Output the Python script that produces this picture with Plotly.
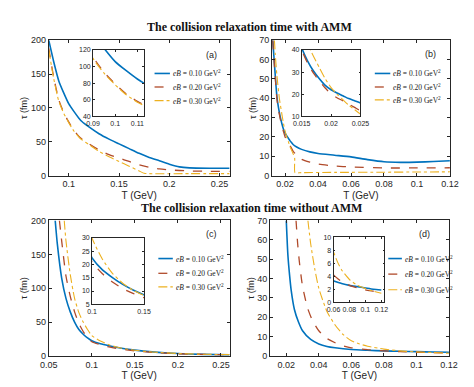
import plotly.graph_objects as go

# ---------------- data ----------------
labels = ["<i>eB</i> = 0.10 GeV<sup>2</sup>", "<i>eB</i> = 0.20 GeV<sup>2</sup>", "<i>eB</i> = 0.30 GeV<sup>2</sup>"]

# (a) with AMM, wide range
a_T1 = [0.08, 0.085, 0.09, 0.095, 0.1, 0.105, 0.11, 0.113, 0.12, 0.13, 0.14, 0.15, 0.16, 0.17, 0.18, 0.19, 0.2, 0.21, 0.22, 0.24, 0.26]
a_t1 = [200, 168, 140, 122, 106, 95, 85, 80, 72, 62, 54, 47, 40, 33, 27, 22, 17, 13, 11.5, 11, 11]
a_T2 = [0.08, 0.085, 0.09, 0.095, 0.1, 0.105, 0.11, 0.113, 0.12, 0.13, 0.14, 0.15, 0.16, 0.17, 0.18, 0.19, 0.2, 0.22, 0.24, 0.26]
a_t2 = [188, 145, 112, 93, 79, 67, 58, 54, 47, 38, 31, 26, 21, 16, 12.5, 10, 8.5, 7, 6.5, 6.5]
a_T3 = [0.08, 0.085, 0.09, 0.095, 0.1, 0.105, 0.11, 0.113, 0.12, 0.13, 0.14, 0.15, 0.16, 0.17, 0.175, 0.18, 0.22, 0.26]
a_t3 = [186, 143, 110, 92, 78, 66, 57, 53, 46, 36, 28, 21, 14, 7, 3.5, 3, 3, 3]

# (b) with AMM, low temperature
b_T1 = [0.0125, 0.013, 0.014, 0.015, 0.016, 0.017, 0.018, 0.019, 0.02, 0.021, 0.022, 0.023, 0.024, 0.025, 0.027, 0.03, 0.035, 0.04, 0.05, 0.06, 0.07, 0.08, 0.09, 0.1, 0.11, 0.12]
b_t1 = [70, 64, 52, 41, 35, 30.5, 27, 24, 22, 20.5, 19.3, 18, 17, 16, 14.8, 13.6, 12.3, 11.5, 10.6, 9.7, 8.3, 7.2, 6.9, 7.0, 7.3, 7.7]
b_T2 = [0.0125, 0.013, 0.014, 0.015, 0.016, 0.017, 0.018, 0.019, 0.02, 0.021, 0.022, 0.023, 0.024, 0.025, 0.026, 0.028, 0.03, 0.035, 0.04, 0.05, 0.06, 0.08, 0.1, 0.12]
b_t2 = [70, 63, 51, 40, 34, 29.5, 26, 22.8, 20, 18.4, 17, 15.5, 14, 12.5, 11.5, 9.8, 8.5, 7, 6, 5, 4.5, 4, 4, 4.1]
b_T3 = [0.0135, 0.014, 0.015, 0.0165, 0.018, 0.019, 0.02, 0.021, 0.022, 0.023, 0.024, 0.025, 0.0258, 0.026, 0.03, 0.05, 0.08, 0.1, 0.12]
b_t3 = [70, 63, 52, 40, 32, 27, 23, 20, 17.5, 15, 13, 11, 9, 1.6, 1.6, 1.7, 1.8, 1.9, 2.0]

# (c) without AMM, wide range
c_T1 = [0.0575, 0.06, 0.065, 0.07, 0.075, 0.08, 0.085, 0.09, 0.095, 0.1, 0.11, 0.12, 0.13, 0.14, 0.15, 0.17, 0.2, 0.23, 0.26]
c_t1 = [200, 165, 115, 85, 65, 50, 39, 32, 26.5, 22.5, 18, 15, 12.4, 10.3, 8.6, 6, 3.5, 2.3, 1.8]
c_T2 = [0.0624, 0.065, 0.07, 0.075, 0.08, 0.085, 0.09, 0.095, 0.1, 0.11, 0.12, 0.13, 0.14, 0.15, 0.17, 0.2, 0.23, 0.26]
c_t2 = [200, 170, 118, 88, 65, 48, 36, 27, 21, 16.5, 13.3, 10.8, 9, 7.5, 5.2, 3.2, 2.2, 1.7]
c_T3 = [0.068, 0.07, 0.075, 0.08, 0.085, 0.09, 0.095, 0.1, 0.11, 0.12, 0.13, 0.14, 0.15, 0.17, 0.2, 0.23, 0.26]
c_t3 = [200, 170, 120, 85, 64, 50, 39, 30, 22, 16.5, 12.8, 10.2, 8.3, 5.8, 3.6, 2.4, 1.9]

# (d) without AMM, low temperature
d_T1 = [0.02, 0.021, 0.022, 0.023, 0.025, 0.0275, 0.03, 0.035, 0.04, 0.045, 0.05, 0.06, 0.07, 0.08, 0.09, 0.1, 0.11, 0.12]
d_t1 = [70, 52, 42, 34, 24, 17.5, 13, 8.5, 6.2, 4.9, 4.2, 3.3, 2.9, 2.6, 2.4, 2.2, 2.0, 1.9]
d_T2 = [0.026, 0.027, 0.028, 0.03, 0.033, 0.036, 0.04, 0.045, 0.05, 0.055, 0.06, 0.07, 0.08, 0.09, 0.1, 0.11, 0.12]
d_t2 = [70, 58, 49, 36, 25, 18.5, 13, 9, 6.8, 5.2, 4.2, 3.2, 2.6, 2.2, 1.9, 1.7, 1.5]
d_T3 = [0.0333, 0.035, 0.0375, 0.04, 0.045, 0.05, 0.055, 0.06, 0.065, 0.07, 0.08, 0.09, 0.1, 0.11, 0.12]
d_t3 = [70, 58, 45, 35, 23, 16, 11, 7.8, 6.2, 5, 3.5, 2.6, 2.1, 1.7, 1.4]

panels = {
    "a": [(a_T1, a_t1), (a_T2, a_t2), (a_T3, a_t3)],
    "b": [(b_T1, b_t1), (b_T2, b_t2), (b_T3, b_t3)],
    "c": [(c_T1, c_t1), (c_T2, c_t2), (c_T3, c_t3)],
    "d": [(d_T1, d_t1), (d_T2, d_t2), (d_T3, d_t3)],
}

# ---------------- styling / layout ----------------
W, H = 474, 387
colors = ["#0072BD", "#B04A2A", "#EDB120"]
dashes = ["solid", "dash", "dashdot"]
widths = [1.6, 1.3, 1.1]

def dom_x(p0, p1):
    return [p0 / W, p1 / W]

def dom_y(p0, p1):
    return [1 - p1 / H, 1 - p0 / H]

main = {
    "a": dict(n=1, bx=(33, 221), by=(28, 167), xr=[0.08, 0.26], yr=[0, 200],
              xt=[0.1, 0.15, 0.2, 0.25], yt=[0, 50, 100, 150, 200]),
    "b": dict(n=2, bx=(265, 450), by=(28, 167), xr=[0.012, 0.12], yr=[0, 70],
              xt=[0.02, 0.04, 0.06, 0.08, 0.1, 0.12], yt=[0, 10, 20, 30, 40, 50, 60, 70]),
    "c": dict(n=3, bx=(33, 221), by=(213, 352), xr=[0.05, 0.26], yr=[0, 200],
              xt=[0.05, 0.1, 0.15, 0.2, 0.25], yt=[0, 50, 100, 150, 200]),
    "d": dict(n=4, bx=(263, 449), by=(213, 352), xr=[0.01, 0.12], yr=[0, 70],
              xt=[0.02, 0.04, 0.06, 0.08, 0.1, 0.12], yt=[0, 10, 20, 30, 40, 50, 60, 70]),
}
inset = {
    "a": dict(n=5, bx=(79, 132), by=(38, 106), xr=[0.09, 0.113], yr=[40, 120],
              xt=[0.09, 0.1, 0.11], yt=[40, 60, 80, 100, 120]),
    "b": dict(n=6, bx=(296, 357), by=(38, 106), xr=[0.015, 0.025], yr=[10, 40],
              xt=[0.015, 0.02, 0.025], yt=[10, 20, 30, 40]),
    "c": dict(n=7, bx=(78, 132), by=(231, 299), xr=[0.1, 0.15], yr=[5, 30],
              xt=[0.1, 0.15], yt=[5, 10, 15, 20, 25, 30]),
    "d": dict(n=8, bx=(329, 382), by=(230, 297), xr=[0.06, 0.124], yr=[0, 10],
              xt=[0.06, 0.08, 0.1, 0.12], yt=[0, 2, 4, 6, 8, 10]),
}

fig = go.Figure()
layout = {}
axcol = "#262626"
tickfont = dict(family="Liberation Sans, Arial", size=9, color=axcol)
itickfont = dict(family="Liberation Sans, Arial", size=7, color=axcol)

def add_axes(spec, small):
    n = spec["n"]
    xk = "xaxis" if n == 1 else f"xaxis{n}"
    yk = "yaxis" if n == 1 else f"yaxis{n}"
    common = dict(showline=True, linecolor=axcol, linewidth=0.8, mirror="ticks",
                  ticks="inside", ticklen=3 if not small else 2, tickcolor=axcol,
                  showgrid=False, zeroline=False,
                  tickfont=itickfont if small else tickfont)
    layout[xk] = dict(domain=dom_x(*spec["bx"]), range=spec["xr"], tickvals=spec["xt"],
                      anchor=f"y{n}" if n > 1 else "y", **common)
    layout[yk] = dict(domain=dom_y(*spec["by"]), range=spec["yr"], tickvals=spec["yt"],
                      anchor=f"x{n}" if n > 1 else "x", **common)
    if not small:
        layout[xk]["title"] = dict(text="T (GeV)", font=dict(family="Liberation Sans, Arial", size=10, color=axcol), standoff=3)
        layout[yk]["title"] = dict(text="τ (fm)", font=dict(family="Liberation Sans, Arial", size=9, color=axcol), standoff=1)

for key in ["a", "b", "c", "d"]:
    add_axes(main[key], False)
    add_axes(inset[key], True)
    for spec in (main[key], inset[key]):
        n = spec["n"]
        xa = "x" if n == 1 else f"x{n}"
        ya = "y" if n == 1 else f"y{n}"
        for i, (T, tau) in enumerate(panels[key]):
            fig.add_trace(go.Scatter(x=T, y=tau, mode="lines", xaxis=xa, yaxis=ya,
                                     line=dict(color=colors[i], dash=dashes[i], width=widths[i], shape="spline", smoothing=0.6),
                                     showlegend=False, hoverinfo="skip", name=labels[i]))

leg = {
    "a": dict(x0=0.585, x1=0.67, xt=0.675, ys=[0.755, 0.655, 0.554]),
    "b": dict(x0=0.578, x1=0.665, xt=0.67, ys=[0.755, 0.655, 0.56]),
    "c": dict(x0=0.606, x1=0.686, xt=0.69, ys=[0.719, 0.61, 0.51]),
    "d": dict(x0=0.661, x1=0.737, xt=0.742, ys=[0.719, 0.604, 0.489]),
}
tag = {"a": (0.9, 0.89), "b": (0.89, 0.9), "c": (0.9, 0.9), "d": (0.866, 0.9)}
shapes = []
annotations = []
for key in ["a", "b", "c", "d"]:
    n = main[key]["n"]
    xr = "x domain" if n == 1 else f"x{n} domain"
    yr = "y domain" if n == 1 else f"y{n} domain"
    L = leg[key]
    for i in range(3):
        shapes.append(dict(type="line", xref=xr, yref=yr, x0=L["x0"], x1=L["x1"], y0=L["ys"][i], y1=L["ys"][i],
                           line=dict(color=colors[i], dash=dashes[i], width=widths[i])))
        annotations.append(dict(xref=xr, yref=yr, x=L["xt"], y=L["ys"][i], text=labels[i], showarrow=False,
                                xanchor="left", yanchor="middle",
                                font=dict(family="Liberation Serif, Times New Roman", size=7.5, color="#222")))
    tx, ty = tag[key]
    annotations.append(dict(xref=xr, yref=yr, x=tx, y=ty, text=f"({key})", showarrow=False,
                            xanchor="center", yanchor="middle",
                            font=dict(family="Liberation Sans, Arial", size=9, color=axcol)))

annotations.append(dict(xref="paper", yref="paper", x=242 / W, y=1 - 14 / H, text="<b>The collision relaxation time with AMM</b>",
                        showarrow=False, xanchor="center", yanchor="middle",
                        font=dict(family="Liberation Serif, Times New Roman", size=12, color="#111")))
annotations.append(dict(xref="paper", yref="paper", x=244 / W, y=1 - 200 / H, text="<b>The collision relaxation time without AMM</b>",
                        showarrow=False, xanchor="center", yanchor="middle",
                        font=dict(family="Liberation Serif, Times New Roman", size=12, color="#111")))

fig.update_layout(width=W, height=H, margin=dict(l=0, r=0, t=0, b=0),
                  paper_bgcolor="white", plot_bgcolor="white",
                  shapes=shapes, annotations=annotations, showlegend=False, **layout)

fig.write_html("out.html")
